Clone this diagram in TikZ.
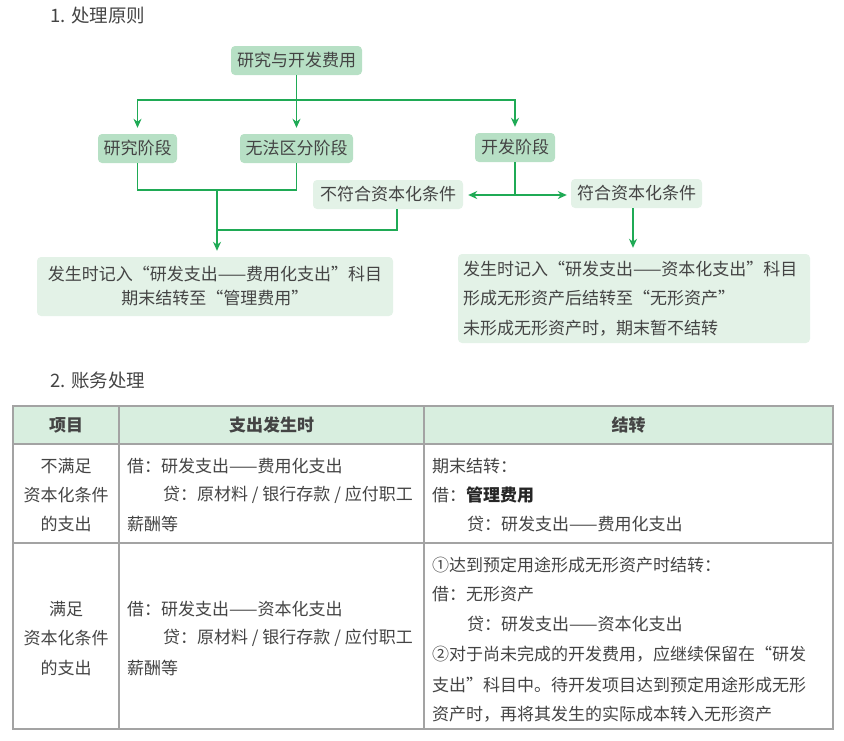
\documentclass[tikz,border=0pt]{standalone}
\usepackage{fontspec}
\setmainfont{Noto Sans CJK SC}
\usetikzlibrary{arrows.meta,calc}
\definecolor{dgreen}{HTML}{B7E0C5}
\definecolor{lgreen}{HTML}{E3F2E7}
\definecolor{agreen}{HTML}{1FAA55}
\definecolor{hdr}{HTML}{D8EEDF}
\definecolor{txtc}{HTML}{444444}
\definecolor{bord}{HTML}{A3A3A3}
\tikzset{
  txt/.style={font=\fontsize{17}{20}\selectfont, text=txtc, inner sep=0pt},
  ttl/.style={txt, font=\fontsize{18.5}{22}\selectfont},
  dbox/.style={txt, fill=dgreen, rounded corners=4pt, minimum height=29pt},
  lbox/.style={txt, fill=lgreen, rounded corners=4pt},
  conn/.style={draw=agreen, line width=1.4pt},
  arr/.style={conn, -{Stealth[length=9pt,width=8pt]}, shorten >=6pt},
  darr/.style={conn, {Stealth[length=9pt,width=8pt]}-{Stealth[length=9pt,width=8pt]}, shorten >=4pt, shorten <=5pt},
  grid/.style={draw=bord, line width=1.5pt},
}
\begin{document}
\begin{tikzpicture}[x=1pt,y=-1pt]
\useasboundingbox (0,0) rectangle (844,740);
% ---------- part 1 ----------
\node[ttl, anchor=west] (t1) at (50,15) {1. 处理原则};
\node[dbox, minimum width=131pt] (top) at (296.5,60.5) {研究与开发费用};
\node[dbox, minimum width=79pt] (res) at (137.5,148.5) {研究阶段};
\node[dbox, minimum width=113pt] (wufa) at (296.5,148.5) {无法区分阶段};
\node[dbox, minimum width=80pt] (kaifa) at (515,147.5) {开发阶段};
\node[lbox, minimum width=150pt, minimum height=29pt] (bufu) at (388,194.5) {不符合资本化条件};
\node[lbox, minimum width=131pt, minimum height=29pt] (fuhe) at (636.5,193.5) {符合资本化条件};
\node[lbox, minimum width=356pt, minimum height=59pt, align=center, font=\fontsize{17}{24}\selectfont] (leftres) at (215,286.5)
  {发生时记入“研发支出——费用化支出”科目\\期末结转至“管理费用”};
\node[lbox, minimum width=352pt, minimum height=89pt, align=left, text width=342pt, font=\fontsize{17}{29.5}\selectfont] (rightres) at (634,298.5)
  {发生时记入“研发支出——资本化支出”科目\\形成无形资产后结转至“无形资产”\\未形成无形资产时，期末暂不结转};

\coordinate (hub) at (296.5,100);
\draw[arr] (top.south) -- (wufa.north);
\draw[arr] (hub) -| (res.north);
\draw[arr] (hub) -| (kaifa.north);

\coordinate (j1) at (217,190);
\coordinate (j2) at (217,230);
\coordinate (b1) at ([xshift=9pt]bufu.south);
\draw[conn] (res.south) |- (j1) -| (wufa.south);
\draw[conn] (b1) |- (j2);
\draw[arr] (j1) -- (j1 |- leftres.north);

\coordinate (k1) at ([yshift=-0.5pt]kaifa.south |- bufu.east);
\draw[conn] (kaifa.south) -- (k1);
\draw[darr] (bufu.east |- k1) -- (fuhe.west |- k1);
\coordinate (f1) at ([xshift=-3.5pt]fuhe.south);
\draw[arr] (f1) -- (f1 |- rightres.north);

% ---------- part 2 ----------
\node[ttl, anchor=west] (t2) at (50,380) {2. 账务处理};
\fill[hdr] (13,406) rectangle (833,444);
\draw[grid] (13,406) rectangle (833,729);
\draw[grid] (13,444) -- (833,444);
\draw[grid] (13,543) -- (833,543);
\draw[grid] (119,406) -- (119,729);
\draw[grid] (424,406) -- (424,729);

\node[txt, font=\fontsize{17}{20}\selectfont\bfseries] (h1) at (66,425) {项目};
\node[txt, font=\fontsize{17}{20}\selectfont\bfseries] (h2) at (271.5,425) {支出发生时};
\node[txt, font=\fontsize{17}{20}\selectfont\bfseries] (h3) at (628.5,425) {结转};

% row 1
\node[txt] (a1) at (66,466) {不满足};
\node[txt] (a2) at (66,495) {资本化条件};
\node[txt] (a3) at (66,524) {的支出};
\node[txt, anchor=west] (b1a) at (127,466) {借：研发支出——费用化支出};
\node[txt, anchor=west] (b1b) at (163,495) {贷：原材料 / 银行存款 / 应付职工};
\node[txt, anchor=west] (b1c) at (127,524) {薪酬等};
\node[txt, anchor=west] (c1a) at (432,466) {期末结转：};
\node[txt, anchor=west] (c1b) at (432,495) {借：\textbf{\color{black!85}管理费用}};
\node[txt, anchor=west] (c1c) at (467,524) {贷：研发支出——费用化支出};

% row 2
\node[txt] (d1) at (66,609) {满足};
\node[txt] (d2) at (66,638) {资本化条件};
\node[txt] (d3) at (66,668) {的支出};
\node[txt, anchor=west] (e1) at (127,609) {借：研发支出——资本化支出};
\node[txt, anchor=west] (e2) at (163,638) {贷：原材料 / 银行存款 / 应付职工};
\node[txt, anchor=west] (e3) at (127,668) {薪酬等};
\node[txt, anchor=west] (g1) at (432,565) {①达到预定用途形成无形资产时结转：};
\node[txt, anchor=west] (g2) at (432,594) {借：无形资产};
\node[txt, anchor=west] (g3) at (467,624) {贷：研发支出——资本化支出};
\node[txt, anchor=west] (g4) at (432,654) {②对于尚未完成的开发费用，应继续保留在“研发};
\node[txt, anchor=west] (g5) at (432,685) {支出”科目中。待开发项目达到预定用途形成无形};
\node[txt, anchor=west] (g6) at (432,714) {资产时，再将其发生的实际成本转入无形资产};
\end{tikzpicture}
\end{document}
